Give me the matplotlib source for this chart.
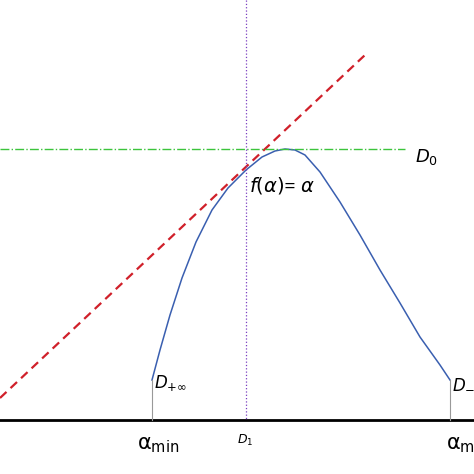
import matplotlib
matplotlib.use("Agg")
import matplotlib.pyplot as plt

# curve (pixel-like coordinates)
curve_x = [152, 160, 170, 182, 196, 212, 228, 246, 262, 275, 285, 295, 305, 320, 340, 360, 380, 400, 420, 440, 450]
curve_y = [380, 350, 315, 278, 242, 210, 188, 170, 157, 151, 149, 150, 155, 172, 202, 235, 270, 303, 337, 365, 380]
line_x = [0, 365]
line_y = [398, 55]
d0_y = 149
d1_x = 246
amin_x, amax_x = 152, 450
axis_y = 420

fig = plt.figure(figsize=(4.74, 4.74), dpi=100)
ax = fig.add_axes([0, 0, 1, 1])
ax.set_xlim(0, 474); ax.set_ylim(474, 0); ax.axis('off')

ax.plot([0, 474], [axis_y, axis_y], color='black', lw=2)
ax.plot(curve_x, curve_y, color='#3a5fb0', lw=1.1)
ax.plot(line_x, line_y, color='#d0202a', lw=1.6, ls=(0, (4, 2.5)))
ax.plot([0, 405], [d0_y, d0_y], color='#3cc43c', lw=1, ls='-.')
ax.plot([d1_x, d1_x], [0, axis_y], color='#7a3fc0', lw=0.9, ls=':')
for xx in (amin_x, amax_x):
    ax.plot([xx, xx], [380, axis_y], color='#999999', lw=0.8)

fam = ['Open Sans', 'DejaVu Sans']
ax.text(415, 157, r'$D_0$', fontsize=13, va='center', ha='left', family=fam)
ax.text(249, 185, r'$f(\alpha)$= $\alpha$', fontsize=14, va='center', ha='left', style='italic', family=fam)
ax.text(154, 383, r'$D_{+\infty}$', fontsize=12, va='center', ha='left')
ax.text(452, 383, r'$D_{-}$', fontsize=12, va='center', ha='left')
ax.text(137, 445, r'$\mathrm{\alpha_{min}}$', fontsize=15, va='center', ha='left')
ax.text(237, 440, r'$D_1$', fontsize=9, va='center', ha='left')
ax.text(446, 445, r'$\mathrm{\alpha_{max}}$', fontsize=15, va='center', ha='left')

fig.savefig('out.png', dpi=100)
